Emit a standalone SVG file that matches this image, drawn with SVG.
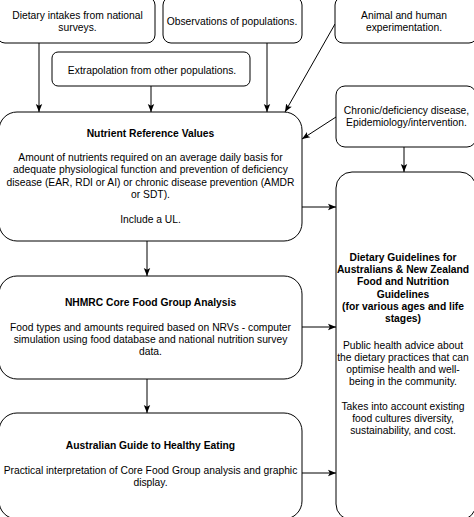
<svg xmlns="http://www.w3.org/2000/svg" width="474" height="517" viewBox="0 0 474 517">
<defs>
<marker id="arr" viewBox="0 0 8 8" markerWidth="8" markerHeight="8" refX="8" refY="4" orient="auto" markerUnits="userSpaceOnUse">
<path d="M0,0.8 L8,4 L0,7.2 L1.8,4 z" fill="#000"/>
</marker>
</defs>
<style>
.box{fill:#fff;stroke:#000;stroke-width:1}
text{font-family:"Liberation Sans",Arial,Helvetica,sans-serif;font-size:10.3px;fill:#000;text-anchor:middle}
.b{font-weight:bold}
.c{fill:none;stroke:#000;stroke-width:1;marker-end:url(#arr)}
</style>
<rect width="474" height="517" fill="#fff"/>
<g id="connectors">
<line class="c" x1="39" y1="43" x2="39" y2="112"/>
<line class="c" x1="151" y1="86" x2="151" y2="112"/>
<line class="c" x1="267" y1="43" x2="267" y2="112"/>
<line class="c" x1="335" y1="24" x2="285" y2="112"/>
<line class="c" x1="336" y1="117" x2="302" y2="139"/>
<line class="c" x1="404" y1="147" x2="404" y2="172"/>
<line class="c" x1="302" y1="207" x2="336" y2="207"/>
<line class="c" x1="147" y1="241" x2="147" y2="276"/>
<line class="c" x1="302" y1="327" x2="336" y2="327"/>
<line class="c" x1="147" y1="379" x2="147" y2="413"/>
<line class="c" x1="302" y1="473" x2="336" y2="473"/>
</g>
<g id="dietary-intakes">
<rect class="box" x="-3" y="-3" width="158" height="46" rx="8"/>
<text x="77.5" y="18.5">Dietary intakes from national</text>
<text x="77.5" y="31">surveys.</text>
</g>
<g id="observations">
<rect class="box" x="163" y="-3" width="139" height="46" rx="8"/>
<text x="232" y="25.3">Observations of populations.</text>
</g>
<g id="animal-human">
<rect class="box" x="335" y="-3" width="142" height="46" rx="8"/>
<text x="404" y="18.5">Animal and human</text>
<text x="404" y="31">experimentation.</text>
</g>
<g id="extrapolation">
<rect class="box" x="52" y="52" width="198" height="34" rx="6"/>
<text x="152" y="73.7">Extrapolation from other populations.</text>
</g>
<g id="nrv">
<rect class="box" x="-1" y="112" width="303" height="129" rx="18"/>
<text class="b" x="150.5" y="136.7">Nutrient Reference Values</text>
<text x="150.5" y="160.5">Amount of nutrients required on an average daily basis for</text>
<text x="150.5" y="173">adequate physiological function and prevention of deficiency</text>
<text x="150.5" y="185.5">disease (EAR, RDI or AI) or chronic disease prevention (AMDR</text>
<text x="150.5" y="198">or SDT).</text>
<text x="150.5" y="223">Include a UL.</text>
</g>
<g id="chronic">
<rect class="box" x="336" y="86" width="140" height="61" rx="9"/>
<text x="406.5" y="113.5">Chronic/deficiency disease,</text>
<text x="406.5" y="126">Epidemiology/intervention.</text>
</g>
<g id="dietary-guidelines">
<rect class="box" x="336" y="172" width="140" height="348" rx="16"/>
<text class="b" x="403" y="261">Dietary Guidelines for</text>
<text class="b" x="403" y="273.2">Australians &amp; New Zealand</text>
<text class="b" x="403" y="285.4">Food and Nutrition</text>
<text class="b" x="403" y="297.6">Guidelines</text>
<text class="b" x="403" y="309.8">(for various ages and life</text>
<text class="b" x="403" y="322">stages)</text>
<text x="403" y="348.7">Public health advice about</text>
<text x="403" y="360.7">the dietary practices that can</text>
<text x="403" y="372.7">optimise health and well-</text>
<text x="403" y="384.7">being in the community.</text>
<text x="403" y="409.7">Takes into account existing</text>
<text x="403" y="421.7">food cultures diversity,</text>
<text x="403" y="433.7">sustainability, and cost.</text>
</g>
<g id="nhmrc">
<rect class="box" x="-1" y="276" width="303" height="103" rx="18"/>
<text class="b" x="150.5" y="305.7">NHMRC Core Food Group Analysis</text>
<text x="150.5" y="330.7">Food types and amounts required based on NRVs - computer</text>
<text x="150.5" y="343">simulation using food database and national nutrition survey</text>
<text x="150.5" y="355.3">data.</text>
</g>
<g id="aghe">
<rect class="box" x="-1" y="413" width="303" height="106" rx="18"/>
<text class="b" x="150.5" y="448.7">Australian Guide to Healthy Eating</text>
<text x="150.5" y="473.7">Practical interpretation of Core Food Group analysis and graphic</text>
<text x="150.5" y="486">display.</text>
</g>
</svg>
